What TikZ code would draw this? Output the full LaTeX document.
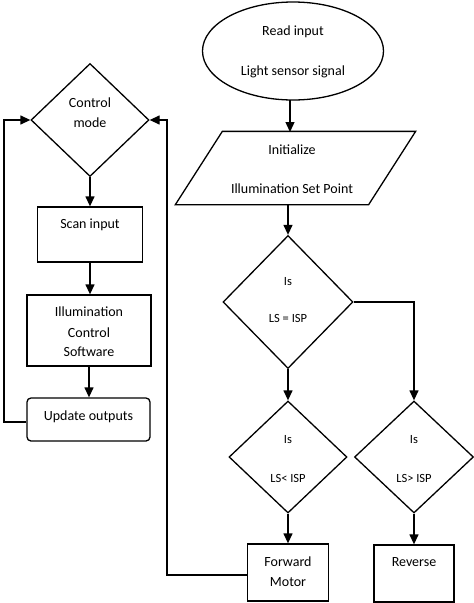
\documentclass[tikz,border=0pt]{standalone}
\usepackage{fontspec}
\setmainfont{Carlito}
\usetikzlibrary{shapes.geometric,arrows.meta,calc}
\begin{document}
\begin{tikzpicture}[x=1pt,y=-1pt,
  line width=1.3pt,
  arr/.style={-{Triangle[width=9pt,length=10pt]}},
  boxs/.style={draw,rectangle,inner sep=0pt},
  dia/.style={draw,diamond,inner sep=0pt},
  txt/.style={inner sep=0pt,font=\fontsize{14}{16}\selectfont},
  stxt/.style={inner sep=0pt,font=\fontsize{12.5}{14}\selectfont}]
\useasboundingbox (0,0) rectangle (474,603);
% left column
\node[dia,minimum width=118pt,minimum height=113pt] (cm) at (90,120) {};
\node[txt] (cmt1) at (90,103) {Control};
\node[txt] (cmt2) at (90,123) {mode};
\node[boxs,minimum width=105pt,minimum height=55pt] (scan) at (90,234.5) {};
\node[txt] (scant) at (90,225) {Scan input};
\node[boxs,minimum width=124pt,minimum height=71pt] (ics) at (89,330.5) {};
\node[txt] (icst1) at (89,312) {Illumination};
\node[txt] (icst2) at (89,333) {Control};
\node[txt] (icst3) at (89,352) {Software};
\node[boxs,rounded corners=4pt,minimum width=123pt,minimum height=43pt] (upd) at (88.5,419.5) {};
\node[txt] (updt) at (88.5,417) {Update outputs};
% right column
\node[draw,ellipse,inner sep=0pt,minimum width=181pt,minimum height=98pt] (ell) at (293,51) {};
\node[txt] (ellt1) at (293,32) {Read input};
\node[txt] (ellt2) at (293,72) {Light sensor signal};
\node[inner sep=0pt,minimum width=192pt,minimum height=72pt] (init) at (295.5,168) {};
\draw ($(init.north west)+(23.5,0)$) -- ($(init.north east)+(23.5,0)$)
  -- ($(init.south east)+(-23.5,0)$) -- ($(init.south west)+(-23.5,0)$) -- cycle;
\node[txt] (initt1) at (292,150) {Initialize};
\node[txt] (initt2) at (292,189) {Illumination Set Point};
\node[dia,minimum width=130pt,minimum height=133pt] (d1) at (288,302) {};
\node[stxt] (d1t1) at (288,282) {Is};
\node[stxt] (d1t2) at (288,318) {LS = ISP};
\node[dia,minimum width=118pt,minimum height=112pt] (d2) at (288,457) {};
\node[stxt] (d2t1) at (288,440) {Is};
\node[stxt] (d2t2) at (288,478) {LS< ISP};
\node[dia,minimum width=119pt,minimum height=112pt] (d3) at (414,457) {};
\node[stxt] (d3t1) at (414,440) {Is};
\node[stxt] (d3t2) at (414,478) {LS> ISP};
\node[boxs,minimum width=81pt,minimum height=57pt] (fm) at (288,572.5) {};
\node[txt] (fmt1) at (288,562) {Forward};
\node[txt] (fmt2) at (288,582) {Motor};
\node[boxs,minimum width=80pt,minimum height=57pt] (rev) at (414,573.5) {};
\node[txt] (revt) at (414,562) {Reverse};
\coordinate (ll1) at (4,422);
\coordinate (rl1) at (167,575);
\coordinate (ea) at (290,100);
\coordinate (eb) at (290,132);
% connectors
\draw[arr] (cm.south) -- (scan.north);
\draw[arr] (scan.south) -- (scan.south |- ics.north);
\draw[arr] (ics.south) -- (ics.south |- upd.north);
\draw[arr] (upd.west |- ll1) -- (ll1) -- (ll1 |- cm.west) -- (cm.west);
\draw[arr] (fm.west |- rl1) -- (rl1) -- (rl1 |- cm.east) -- (cm.east);
\draw[arr] (ea) -- (eb);
\draw[arr] (d1.north |- init.south) -- (d1.north);
\draw[arr] (d1.east) -- (d1.east -| d3.north) -- (d3.north);
\draw[arr] (d1.south) -- (d2.north);
\draw[arr] (d2.south) -- (fm.north);
\draw[arr] (d3.south) -- (rev.north);
\end{tikzpicture}
\end{document}
